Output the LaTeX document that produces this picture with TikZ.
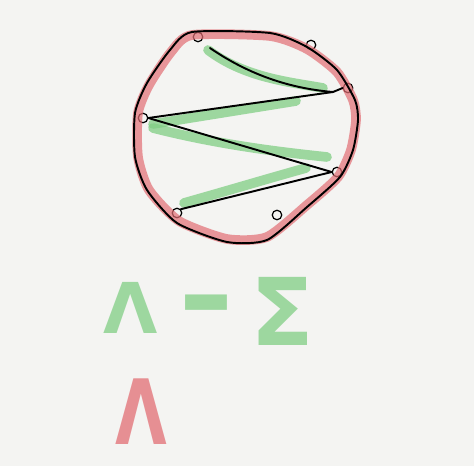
\documentclass[tikz,border=0pt]{standalone}
\usepackage{fontspec}
\setsansfont{DejaVu Sans}
\usetikzlibrary{positioning}
\definecolor{paper}{RGB}{244,244,242}
\definecolor{markred}{RGB}{226,110,116}
\definecolor{markgreen}{RGB}{128,206,132}
\tikzset{
  vtx/.style={draw, circle, inner sep=0pt, minimum size=0.19cm, line width=0.7pt},
  pen/.style={line width=1.1pt, line cap=round, line join=round},
  redmark/.style={markred, opacity=0.7, line width=5.5pt, line cap=round, line join=round},
  greenmark/.style={markgreen, opacity=0.75, line width=5.5pt, line cap=round},
  glyph/.style={inner sep=0pt, font=\sffamily\bfseries\fontsize{38}{38}\selectfont, opacity=0.75}
}
\begin{document}
\begin{tikzpicture}[x=0.02cm,y=-0.02cm]
      \fill[paper] (0,0) rectangle (474,466);
      \useasboundingbox (0,0) rectangle (474,466);

      % vertices of the polygon
      \node[vtx] (a) at (198,37) {};
      \node[vtx] (b) at (311,45) {};
      \node[vtx] (c) at (348,88) {};
      \node[vtx] (d) at (143,118) {};
      \node[vtx] (e) at (337,172) {};
      \node[vtx] (f) at (177,213) {};
      \node[vtx] (g) at (277,215) {};

      % red boundary
      \draw[redmark] plot[smooth cycle, tension=0.4] coordinates {(192,35) (270,36) (307,49)
        (337,72) (353,100) (356,120) (351,150) (338,177) (307,205) (267,237) (227,239)
        (179,221) (149,190) (138,157) (138,113) (149,85) (171,52)};

      % green shadows of the zigzag
      \draw[greenmark] (208,50) .. controls (245,78) and (290,82) .. (323,88);
      \draw[greenmark] (153,124) -- (296,101);
      \draw[greenmark] (153,128) .. controls (220,145) and (280,152) .. (327,157);
      \draw[greenmark] (184,203) .. controls (230,190) and (270,178) .. (306,168);

      % black outline
      \draw[pen] plot[smooth cycle, tension=0.4] coordinates {(192,32) (270,33) (307,47)
        (337,70) (355,100) (358,120) (353,150) (340,177) (307,207) (267,240) (227,242)
        (177,223) (147,190) (135,157) (135,113) (147,83) (170,50)};

      % zigzag
      \coordinate (z0) at (210,48);
      \coordinate (z1) at (333,92);
      \draw[pen] (z0) .. controls (245,72) and (285,88) .. (z1) -- (c.west);
      \draw[pen] (z1) -- (d.east);
      \draw[pen] (d.east) -- (e.west);
      \draw[pen] (e.west) -- (f.north east);

      % formula
      \node[glyph, text=markgreen] (lam) at (131,308) {\scalebox{1.05}[1.05]{Λ}};
      \node[glyph, text=markgreen] (minus) at (206,320) {\scalebox{1}[2]{−}};
      \node[glyph, text=markgreen] (sig) at (282,311) {\scalebox{1.4}[1.4]{Σ}};
      \node[glyph, text=markred] (lamred) at (141,412) {\scalebox{1}[1.35]{Λ}};
\end{tikzpicture}
\end{document}
